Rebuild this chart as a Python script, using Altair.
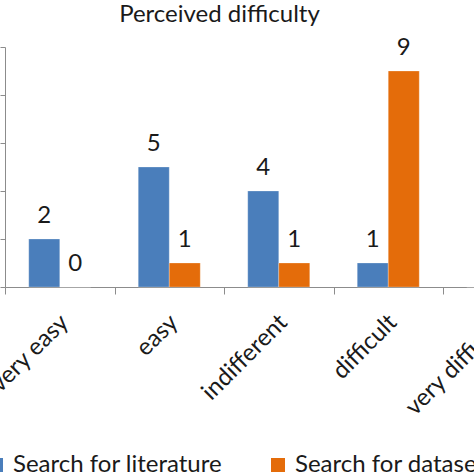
import altair as alt
import pandas as pd

categories = ["very easy", "easy", "indifferent", "difficult", "very difficult"]
series = ["Search for literature", "Search for datasets"]
literature = [2, 5, 4, 1, 0]
datasets = [0, 1, 1, 9, 1]
y_ticks = [0, 2, 4, 6, 8, 10]
colors = ["#4A7EBB", "#E46C0A"]

rows = []
for c, a, b in zip(categories, literature, datasets):
    rows.append({"cat": c, "series": series[0], "value": a})
    rows.append({"cat": c, "series": series[1], "value": b})
df = pd.DataFrame(rows)

FONT = "Lato"

x = alt.X("cat:N", sort=categories, title=None,
          scale=alt.Scale(paddingInner=0, paddingOuter=0, range=[0, 547.5]),
          axis=alt.Axis(labelAngle=-45, labelAlign="right", labelBaseline="top",
                        labelFontSize=24, labelFont=FONT, labelColor="#1a1a1a",
                        tickBand="extent", tickSize=7, tickColor="#8c8c8c",
                        domainColor="#8c8c8c", labelPadding=16, labelOffset=-4,
                        labelOverlap=False, labelFlush=False, labelBound=False,
                        labelLimit=0))
xo = alt.XOffset("series:N", sort=series,
                 scale=alt.Scale(paddingInner=0, paddingOuter=0.766))
y = alt.Y("value:Q", title=None,
          scale=alt.Scale(domain=[0, 10], nice=False),
          axis=alt.Axis(labels=False, values=y_ticks, grid=False, tickSize=5,
                        tickColor="#8c8c8c", domainColor="#8c8c8c"))
color = alt.Color("series:N", sort=series,
                  scale=alt.Scale(domain=series, range=colors),
                  legend=alt.Legend(title=None, orient="none", direction="horizontal",
                                    legendX=-21, legendY=406, padding=0,
                                    symbolType="square", symbolSize=196,
                                    symbolStrokeWidth=0, labelFontSize=24,
                                    labelFont=FONT, labelColor="#1a1a1a",
                                    labelOffset=5, columnPadding=43,
                                    labelLimit=0))

bars = alt.Chart(df).mark_bar(stroke="#ffffff", strokeOpacity=0.25, strokeWidth=1).encode(
    x=x, xOffset=xo, y=y, color=color)
labels = alt.Chart(df).mark_text(font=FONT, fontSize=24, color="#1a1a1a",
                                 baseline="middle", dy=-23).encode(
    x=x, xOffset=xo, y=y, text="value:Q")

chart = alt.layer(bars, labels).properties(
    width=469, height=240,
    autosize=alt.AutoSizeParams(type="none"),
    padding={"left": 5, "top": 47, "right": 0, "bottom": 187},
    title=alt.TitleParams("Perceived difficulty", font=FONT, fontSize=24,
                          fontWeight="normal", color="#1a1a1a",
                          anchor="middle", dx=-20, offset=9),
).configure_view(stroke=None)

chart.save("out.html", embed_options={"renderer": "svg", "actions": False})
